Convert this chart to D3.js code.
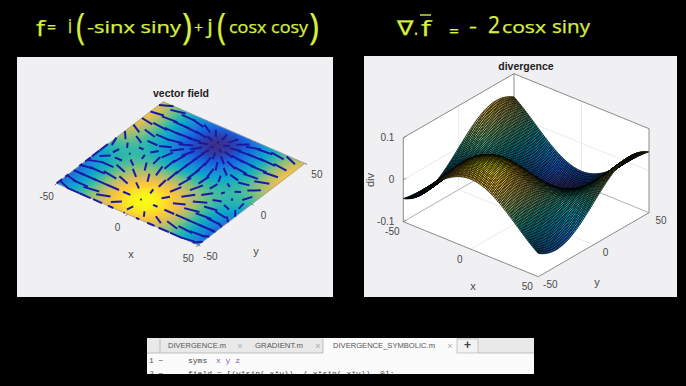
<!DOCTYPE html>
<html>
<head>
<meta charset="utf-8">
<script src="https://cdn.jsdelivr.net/npm/d3@7"></script>
<style>
  html, body { margin: 0; padding: 0; background: #000; }
  svg { display: block; }
</style>
</head>
<body>
<svg id="chart" width="686" height="386"></svg>
<script>
// values
const gridX = d3.range(-50, 51, 1);
const gridY = d3.range(-50, 51, 1);
// shape of the surface along x (1 at the crest) and along y (sign included), scaled by zPeak
const zPeak = 0.09;
const xProfile = [-.674,-.639,-.603,-.565,-.526,-.487,-.446,-.404,-.361,-.318,-.274,-.229,-.184,-.138,-.092,-.046,0,.046,.092,.138,.184,.229,.274,.318,.361,.404,.446,.487,.526,.565,.603,.639,.674,.707,.739,.769,.798,.825,.850,.874,.895,.915,.932,.948,.962,.973,.983,.990,.996,.999,1,.999,.996,.990,.983,.973,.962,.948,.932,.915,.895,.874,.850,.825,.798,.769,.739,.707,.674,.639,.603,.565,.526,.487,.446,.404,.361,.318,.274,.229,.184,.138,.092,.046,0,-.046,-.092,-.138,-.184,-.229,-.274,-.318,-.361,-.404,-.446,-.487,-.526,-.565,-.603,-.639,-.674];
const yProfile = [.739,.769,.798,.825,.850,.874,.895,.915,.932,.948,.962,.973,.983,.990,.996,.999,1,.999,.996,.990,.983,.973,.962,.948,.932,.915,.895,.874,.850,.825,.798,.769,.739,.707,.674,.639,.603,.565,.526,.487,.446,.404,.361,.318,.274,.229,.184,.138,.092,.046,0,-.046,-.092,-.138,-.184,-.229,-.274,-.318,-.361,-.404,-.446,-.487,-.526,-.565,-.603,-.639,-.674,-.707,-.739,-.769,-.798,-.825,-.850,-.874,-.895,-.915,-.932,-.948,-.962,-.973,-.983,-.990,-.996,-.999,-1,-.999,-.996,-.990,-.983,-.973,-.962,-.948,-.932,-.915,-.895,-.874,-.850,-.825,-.798,-.769,-.739];

const quiverPos = [-50,-42,-34,-26,-18,-10,-2,6,14,22,30,38,46];
const quiverCos = [-.674,-.404,0,.361,.674,.895,.996,.962,.798,.526,.184,-.184,-.526];
const quiverSin = [-.739,-.915,-1,-.932,-.739,-.446,-.092,.274,.603,.850,.983,.983,.850];

const parula = ["#352a87","#0f5cdd","#1481d6","#06a4ca","#2eb7a4","#87bf77","#d1bb59","#fec832","#f9fb0e"];
const xyTicks = [-50, 0, 50];
const zTicks = [-0.1, 0, 0.1];
const zTickLabels = ["-0.1", "0", "0.1"];
const tabNames = ["DIVERGENCE.m", "GRADIENT.m", "DIVERGENCE_SYMBOLIC.m"];

const svg = d3.select("#chart");
const sans = "'Liberation Sans', Arial, sans-serif";
const ink = "#4a4a4a";

const color = d3.scaleLinear()
    .domain(d3.range(9).map(i => -0.09 + i * 0.0225))
    .range(parula);

const zAt = (i, j) => zPeak * xProfile[i] * yProfile[j];

// oblique view: each data axis gets its own pair of pixel scales
function makeView(a, ex, ey, zHeight) {
    const xToPx = d3.scaleLinear().domain([-50, 50]).range([0, ex[0]]),
        xToPy = d3.scaleLinear().domain([-50, 50]).range([0, ex[1]]),
        yToPx = d3.scaleLinear().domain([-50, 50]).range([0, ey[0]]),
        yToPy = d3.scaleLinear().domain([-50, 50]).range([0, ey[1]]),
        zToPy = d3.scaleLinear().domain([-0.1, 0.1]).range([0, -zHeight]);
    return (x, y, z) => [a[0] + xToPx(x) + yToPx(y), a[1] + xToPy(x) + yToPy(y) + (z === undefined ? 0 : zToPy(z))];
}

function panel(x0, y0, x1, y1) {
    svg.append("rect").attr("x", x0).attr("y", y0).attr("width", x1 - x0).attr("height", y1 - y0).attr("fill", "#f0eff2");
}

function label(text, x, y, opts) {
    opts = opts || {};
    return svg.append("text").attr("x", x).attr("y", y).text(text)
        .attr("font-family", sans).attr("font-size", opts.size || 10)
        .attr("font-weight", opts.bold ? "bold" : "normal")
        .attr("fill", opts.fill || ink)
        .attr("text-anchor", opts.anchor || "middle")
        .attr("dominant-baseline", "central")
        .attr("transform", opts.rotate ? `rotate(${opts.rotate} ${x} ${y})` : null);
}

const polyPath = pts => "M" + pts.map(p => p[0].toFixed(2) + "," + p[1].toFixed(2)).join("L") + "Z";

function drawEquations() {
    const yellow = "#d8ef3c";
    const hand = (text, x, width, size, y) => svg.append("text").attr("x", x).attr("y", y || 33).text(text)
        .attr("font-family", "'Open Sans', sans-serif")
        .attr("font-size", size).attr("fill", yellow).attr("stroke", yellow).attr("stroke-width", 0.25)
        .attr("textLength", width).attr("lengthAdjust", "spacingAndGlyphs");
    hand("f", 36, 9, 22, 36);
    hand("=", 47, 9, 16);
    hand("i", 68, 4, 20);
    hand("(", 76, 9, 36, 39);
    hand("-sinx siny", 87, 94, 17);
    hand(")", 182, 10, 36, 39);
    hand("+", 194, 9, 15);
    hand("j", 207, 6, 20);
    hand("(", 217, 9, 36, 39);
    hand("cosx cosy", 229, 79, 17);
    hand(")", 309, 10, 36, 39);

    hand("∇", 397, 16, 20, 35);
    hand(".", 414, 4, 20, 35);
    hand("f", 421, 10, 21, 36);
    svg.append("line").attr("x1", 420).attr("y1", 15).attr("x2", 431).attr("y2", 15).attr("stroke", yellow).attr("stroke-width", 1.4);
    hand("=", 449, 10, 17, 37);
    hand("-", 469, 8, 18);
    hand("2", 488, 12, 24);
    hand("cosx", 502, 44, 16);
    hand("siny", 552, 38, 18);
}

function drawVectorField() {
    panel(17, 57, 333, 297);
    const view = makeView([56.7, 183.3], [141.6, 61.7], [106.6, -81.6]);
    const g = svg.append("g");
    for (let i = 0; i < gridX.length - 1; i++) {
        for (let j = 0; j < gridY.length - 1; j++) {
            const c = color((zAt(i, j) + zAt(i + 1, j) + zAt(i, j + 1) + zAt(i + 1, j + 1)) / 4);
            g.append("path")
                .attr("d", polyPath([view(gridX[i], gridY[j]), view(gridX[i + 1], gridY[j]), view(gridX[i + 1], gridY[j + 1]), view(gridX[i], gridY[j + 1])]))
                .attr("fill", c).attr("stroke", c).attr("stroke-width", 0.5);
        }
    }
    // edge of the plane
    svg.append("path")
        .attr("d", polyPath([view(-50, -50), view(50, -50), view(50, 50), view(-50, 50)]))
        .attr("fill", "none").attr("stroke", "#9a9a9a").attr("stroke-width", 0.7);

    // quiver, tail on the grid node
    const quiverScale = 11.5;
    const arrows = svg.append("g").attr("stroke", "#1b18a6").attr("fill", "none")
        .attr("stroke-width", 2).attr("stroke-linecap", "butt");
    const clampAxis = d3.scaleLinear().domain([-50, 50]).range([-50, 50]).clamp(true);
    quiverPos.forEach((px, i) => {
        quiverPos.forEach((py, j) => {
            const u = -quiverSin[i] * quiverSin[j],
                v = quiverCos[i] * quiverCos[j];
            const a = view(px, py),
                b = view(clampAxis(px + quiverScale * u), clampAxis(py + quiverScale * v));
            arrows.append("line").attr("x1", a[0]).attr("y1", a[1]).attr("x2", b[0]).attr("y2", b[1]);
        });
    });

    xyTicks.forEach(t => {
        const px = view(t, -50), py = view(50, t);
        label(t, px[0] - 10, px[1] + 13);
        label(t, py[0] + 12, py[1] + 11);
        svg.append("line").attr("x1", px[0]).attr("y1", px[1]).attr("x2", px[0] - 2).attr("y2", px[1] + 2).attr("stroke", "#777");
        svg.append("line").attr("x1", py[0]).attr("y1", py[1]).attr("x2", py[0] + 2).attr("y2", py[1] + 1).attr("stroke", "#777");
    });
    label("x", 131, 254, {size: 11});
    label("y", 256, 251, {size: 11});
    label("vector field", 181, 93, {bold: true, size: 10.5, fill: "#222"});
}

function drawDivergence() {
    panel(364, 56, 677, 297);
    const view = makeView([403.3, 221.7], [135, 55], [110.7, -64], 84);
    const line = (p, q, stroke, w) => svg.append("line")
        .attr("x1", p[0]).attr("y1", p[1]).attr("x2", q[0]).attr("y2", q[1])
        .attr("stroke", stroke).attr("stroke-width", w || 0.8);

    // walls and floor
    svg.append("path")
        .attr("d", polyPath([view(-50, -50, -.1), view(50, -50, -.1), view(50, 50, -.1), view(50, 50, .1), view(-50, 50, .1), view(-50, -50, .1)]))
        .attr("fill", "#fff");

    // grid
    const grid = "#e4e4e4";
    line(view(-50, 0, -.1), view(50, 0, -.1), grid);
    line(view(0, -50, -.1), view(0, 50, -.1), grid);
    line(view(-50, 0, -.1), view(-50, 0, .1), grid);
    line(view(0, 50, -.1), view(0, 50, .1), grid);
    line(view(-50, -50, 0), view(-50, 50, 0), grid);
    line(view(-50, 50, 0), view(50, 50, 0), grid);

    // box
    const box = "#6f6f6f";
    line(view(-50, -50, -.1), view(50, -50, -.1), box);
    line(view(50, -50, -.1), view(50, 50, -.1), box);
    line(view(-50, -50, .1), view(-50, 50, .1), box);
    line(view(-50, 50, .1), view(50, 50, .1), box);
    line(view(-50, -50, -.1), view(-50, 50, -.1), "#9a9a9a");
    line(view(-50, 50, -.1), view(50, 50, -.1), "#9a9a9a");
    line(view(-50, 50, -.1), view(-50, 50, .1), box);
    line(view(-50, -50, -.1), view(-50, -50, .1), box);
    line(view(50, 50, -.1), view(50, 50, .1), box);

    // faces painted back to front, the dense mesh darkens them
    const g = svg.append("g");
    for (let i = 0; i < gridX.length - 1; i++) {
        for (let j = gridY.length - 2; j >= 0; j--) {
            const z = (zAt(i, j) + zAt(i + 1, j) + zAt(i, j + 1) + zAt(i + 1, j + 1)) / 4;
            g.append("path")
                .attr("d", polyPath([
                    view(gridX[i], gridY[j], zAt(i, j)),
                    view(gridX[i + 1], gridY[j], zAt(i + 1, j)),
                    view(gridX[i + 1], gridY[j + 1], zAt(i + 1, j + 1)),
                    view(gridX[i], gridY[j + 1], zAt(i, j + 1))]))
                .attr("fill", color(z)).attr("stroke", "#000").attr("stroke-width", 0.6);
        }
    }

    xyTicks.forEach(t => {
        const px = view(t, -50, -.1), py = view(50, t, -.1);
        label(t, px[0] - 11, px[1] + 10);
        label(t, py[0] + 12, py[1] + 8);
    });
    zTicks.forEach((t, i) => {
        const p = view(-50, -50, t);
        label(zTickLabels[i], p[0] - 9, p[1], {anchor: "end"});
        line(p, [p[0] + 3, p[1] - 1.5], "#777");
    });
    label("x", 473, 286, {size: 11});
    label("y", 597, 282, {size: 11});
    label("div", 370, 180, {size: 11, rotate: -90});
    label("divergence", 526, 66, {bold: true, size: 10.5, fill: "#222"});
}

function drawEditor() {
    svg.append("rect").attr("x", 147).attr("y", 338).attr("width", 387).attr("height", 36).attr("fill", "#fbfbfb");
    svg.append("rect").attr("x", 147).attr("y", 338).attr("width", 387).attr("height", 15).attr("fill", "#e9e9e9");
    svg.append("rect").attr("x", 323).attr("y", 338).attr("width", 134).attr("height", 15).attr("fill", "#fbfbfb");
    svg.append("rect").attr("x", 457).attr("y", 339).attr("width", 21).attr("height", 14).attr("fill", "#f2f2f2").attr("stroke", "#aaa").attr("stroke-width", 0.6);
    [160, 323].forEach(x => svg.append("line").attr("x1", x).attr("y1", 339).attr("x2", x).attr("y2", 353).attr("stroke", "#aaa").attr("stroke-width", 0.7));
    svg.append("line").attr("x1", 147).attr("y1", 353).attr("x2", 323).attr("y2", 353).attr("stroke", "#aaa").attr("stroke-width", 0.7);
    svg.append("line").attr("x1", 478).attr("y1", 353).attr("x2", 534).attr("y2", 353).attr("stroke", "#aaa").attr("stroke-width", 0.7);
    const tabX = [168, 255, 333], tabW = [58, 48, 102];
    tabNames.forEach((name, i) => label(name, tabX[i], 345.5, {anchor: "start", size: 7.8, fill: "#555"})
        .attr("textLength", tabW[i]).attr("lengthAdjust", "spacingAndGlyphs"));
    [240, 318, 450].forEach(x => label("×", x, 345.5, {size: 9, fill: "#aaa"}));
    label("+", 467.5, 345, {size: 12, bold: true, fill: "#444"});
    const mono = "'Liberation Mono', monospace";
    label("1 −", 149, 360, {anchor: "start", size: 8, fill: "#555"}).attr("font-family", mono);
    label("syms", 188, 360, {anchor: "start", size: 8, fill: "#444"}).attr("font-family", mono);
    label("x y z", 216, 360, {anchor: "start", size: 8, fill: "#8d4fc0"}).attr("font-family", mono);
    label("2 −", 149, 373, {anchor: "start", size: 8, fill: "#555"}).attr("font-family", mono);
    label("field = [(y*sin(-x*y)), (-x*sin(-x*y)), 0];", 188, 373, {anchor: "start", size: 8, fill: "#444"}).attr("font-family", mono);
    svg.append("rect").attr("x", 140).attr("y", 374).attr("width", 400).attr("height", 12).attr("fill", "#000");
}

drawEquations();
drawVectorField();
drawDivergence();
drawEditor();
</script>
</body>
</html>
